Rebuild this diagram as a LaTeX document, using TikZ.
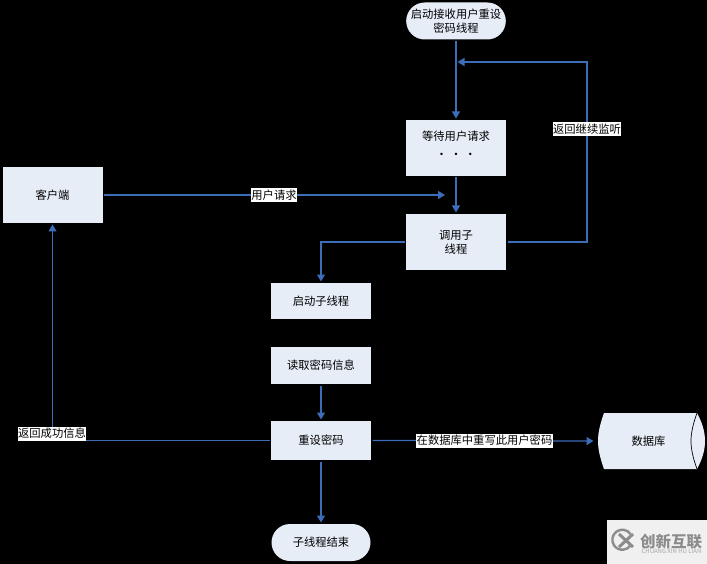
\documentclass[tikz,border=0pt]{standalone}
\usepackage{fontspec}
\setmainfont{Noto Sans CJK SC}
\usetikzlibrary{arrows.meta,shapes.misc}
\definecolor{boxfill}{HTML}{E6EDF7}
\definecolor{linkblue}{HTML}{3B6DB8}
\tikzset{
  txt/.style={font=\fontsize{11.3}{14}\selectfont,text=black,align=center,inner sep=0pt},
  procbox/.style={txt,fill=boxfill,minimum width=100pt,outer sep=1.5pt},
  endbox/.style={txt,fill=boxfill,rounded rectangle,minimum width=99pt,minimum height=37pt,outer sep=1.5pt},
  link/.style={draw=linkblue,line width=1.25pt},
  linkarrow/.style={link,-{Triangle[length=7pt,width=8pt]}},
  lab/.style={txt,fill=white,inner xsep=0.3pt,inner ysep=0pt,minimum height=14pt}
}
\begin{document}
\begin{tikzpicture}[x=1pt,y=-1pt]
\fill[black] (0,0) rectangle (707,564);
\useasboundingbox (0,0) rectangle (707,564);
% nodes
\node[endbox] (start) at (456,21) {启动接收用户重设\\密码线程};
\node[procbox,minimum height=56pt] (wait) at (456,148) {\rule{0pt}{0pt}\\[-20pt]等待用户请求\\[1pt]{\bfseries .\hspace{10.5pt}.\hspace{10.5pt}.}};
\node[procbox,minimum height=56pt] (call) at (456,242) {调用子\\线程};
\node[procbox,minimum height=56pt] (client) at (52.5,195) {客户端};
\node[procbox,minimum height=36pt] (spawn) at (321,301) {启动子线程};
\node[procbox,minimum height=37pt] (read) at (321,365.5) {读取密码信息};
\node[procbox,minimum height=39pt] (reset) at (321,440.5) {重设密码};
\node[endbox] (stop) at (321,542.5) {子线程结束};
% database
\fill[boxfill] (604,413) -- (697,413) .. controls (703,424) and (705,433) .. (705,441)
  .. controls (705,449) and (703,458) .. (697,469) -- (604,469)
  .. controls (600,458) and (598,449) .. (598,441) .. controls (598,433) and (600,424) .. (604,413) -- cycle;
\draw[black,line width=0.7pt] (697,413) .. controls (693,424) and (691,433) .. (691,441)
  .. controls (691,449) and (693,458) .. (697,469);
\node[txt,minimum width=107pt,minimum height=56pt,outer sep=1.5pt] (db) at (648.5,441) {数据库};
% free ends
\coordinate (turn) at (587,62);
\coordinate (join) at (457.5,62);
\coordinate (reqend) at (445,195);
% connectors
\draw[linkarrow] (start.south) -- (wait.north);
\draw[linkarrow] (wait.south) -- (call.north);
\draw[linkarrow] (call.east) -| (turn) -- (join);
\draw[linkarrow] (client.east) -- (reqend);
\draw[linkarrow] (call.west) -| (spawn.north);
\draw[linkarrow] (read.south) -- (reset.north);
\draw[linkarrow] (reset.south) -- (stop.north);
\draw[linkarrow] (reset.west) -| (client.south);
\draw[linkarrow] (reset.east) -- (db.west);
% labels
\node[lab] (l1) at (587,129) {返回继续监听};
\node[lab] (l2) at (274,195) {用户请求};
\node[lab] (l3) at (52,433.5) {返回成功信息};
\node[lab] (l4) at (484.5,440.5) {在数据库中重写此用户密码};
% watermark
\fill[black!6] (607,520) rectangle (707,564);
\draw[black!45,line width=2.4pt] (630.5,534) arc[start angle=35,end angle=325,radius=10pt];
\draw[black!45,line width=3pt] (619,534) -- (633,547) (633,534) -- (619,547);
\node[font=\fontsize{15.5}{17}\selectfont\bfseries,text=black!45,inner sep=0pt] (wm1) at (671,541.5) {创新互联};
\node[font=\fontsize{6}{7}\selectfont,text=black!35,inner sep=0pt] (wm2) at (671.5,551.5) {CHUANG XIN HU LIAN};
\end{tikzpicture}
\end{document}
